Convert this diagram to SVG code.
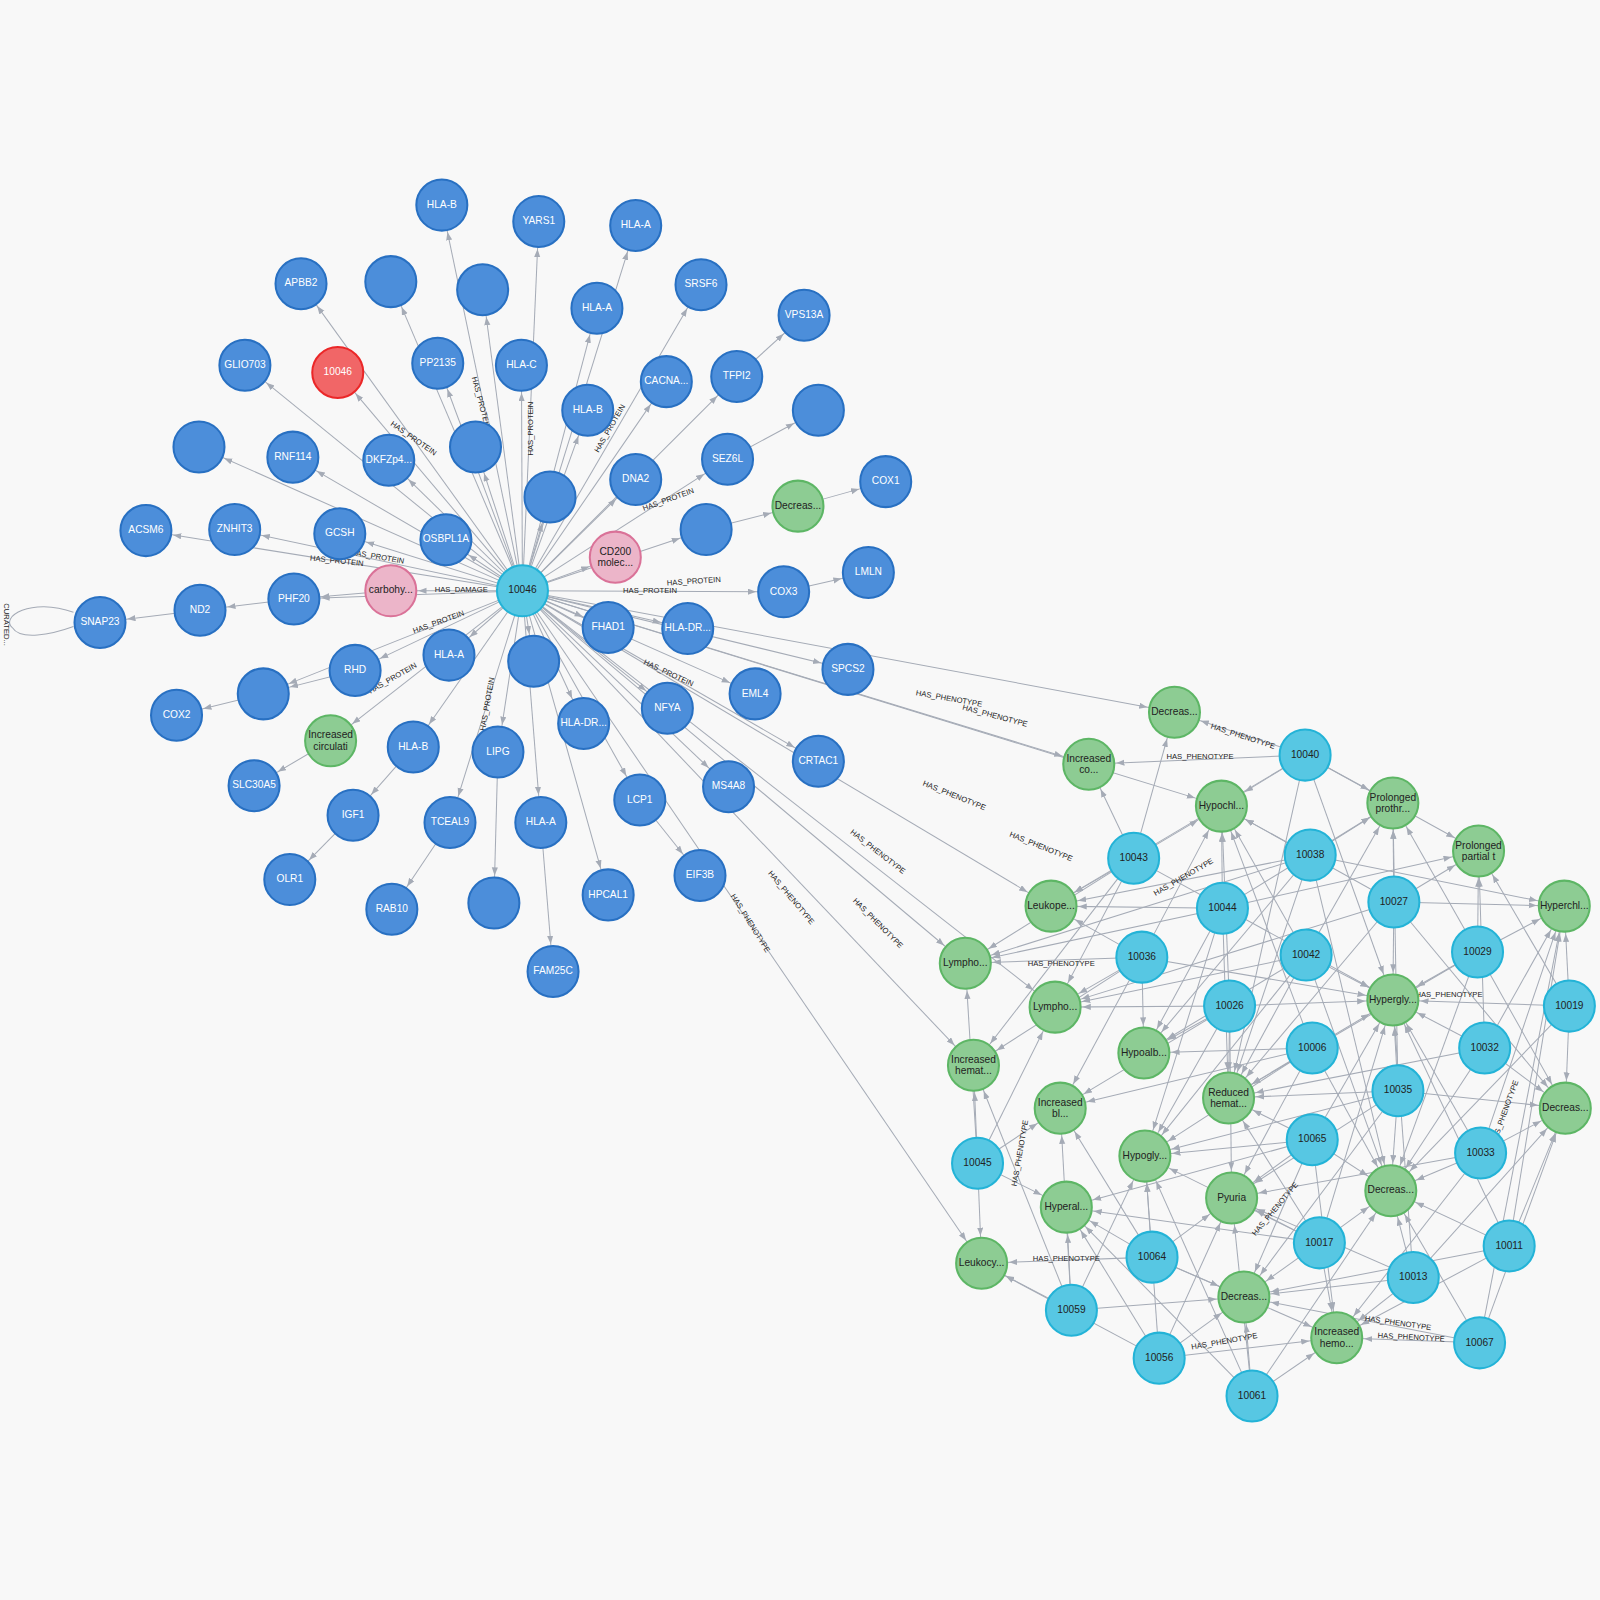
<svg xmlns="http://www.w3.org/2000/svg" width="1600" height="1600" viewBox="0 0 1600 1600">
<style>
.e{stroke:#a5abb6;stroke-width:1;fill:none;marker-end:url(#a)}
.b{fill:#4c8eda;stroke:#2870c2;stroke-width:2}
.c{fill:#57c7e3;stroke:#23b3d7;stroke-width:2}
.g{fill:#8dcc93;stroke:#5db665;stroke-width:2}
.p{fill:#ecb5c9;stroke:#da7298;stroke-width:2}
.r{fill:#f16667;stroke:#eb2728;stroke-width:2}
text{font-family:"Liberation Sans",Arial,sans-serif;text-anchor:middle;dominant-baseline:middle}
.w{fill:#fff;font-size:10px}
.k{fill:#222;font-size:10px}
.l{fill:#222;font-size:7.5px}
</style>
<defs><marker id="a" markerUnits="userSpaceOnUse" markerWidth="10" markerHeight="8" refX="35" refY="3" orient="auto"><path d="M0,0L8,3L0,6z" fill="#a5abb6"/></marker></defs>
<rect width="1600" height="1600" fill="#f8f8f8"/>
<g transform="scale(1.0204)">
<g id="connectors">
<path class="e" d="M72,600 C30,585 0,605 12,615 C20,628 50,622 72,614" style="marker-end:none"/>
<text class="l" x="6" y="612" transform="rotate(90 6 612)">CURATED...</text>
<line class="e" x1="512" y1="579" x2="433" y2="201"/><line class="e" x1="512" y1="579" x2="528" y2="217"/><line class="e" x1="512" y1="579" x2="623" y2="221"/><line class="e" x1="512" y1="579" x2="295" y2="278"/><line class="e" x1="512" y1="579" x2="383" y2="276"/><line class="e" x1="512" y1="579" x2="473" y2="284"/><line class="e" x1="512" y1="579" x2="585" y2="302"/><line class="e" x1="512" y1="579" x2="687" y2="279"/><line class="e" x1="512" y1="579" x2="240" y2="358"/><line class="e" x1="512" y1="579" x2="331" y2="365"/><line class="e" x1="512" y1="579" x2="429" y2="356"/><line class="e" x1="512" y1="579" x2="511" y2="358"/><line class="e" x1="512" y1="579" x2="653" y2="374"/><line class="e" x1="512" y1="579" x2="722" y2="369"/><line class="e" x1="512" y1="579" x2="576" y2="402"/><line class="e" x1="512" y1="579" x2="195" y2="438"/><line class="e" x1="512" y1="579" x2="287" y2="448"/><line class="e" x1="512" y1="579" x2="381" y2="451"/><line class="e" x1="512" y1="579" x2="466" y2="438"/><line class="e" x1="512" y1="579" x2="539" y2="487"/><line class="e" x1="512" y1="579" x2="623" y2="470"/><line class="e" x1="512" y1="579" x2="713" y2="450"/><line class="e" x1="512" y1="579" x2="143" y2="520"/><line class="e" x1="512" y1="579" x2="230" y2="519"/><line class="e" x1="512" y1="579" x2="333" y2="523"/><line class="e" x1="512" y1="579" x2="437" y2="529"/><line class="e" x1="512" y1="579" x2="692" y2="519"/><line class="e" x1="512" y1="579" x2="603" y2="546"/><line class="e" x1="512" y1="579" x2="383" y2="579"/><line class="e" x1="512" y1="579" x2="288" y2="587"/><line class="e" x1="512" y1="579" x2="768" y2="580"/><line class="e" x1="512" y1="579" x2="596" y2="615"/><line class="e" x1="512" y1="579" x2="674" y2="616"/><line class="e" x1="512" y1="579" x2="348" y2="657"/><line class="e" x1="512" y1="579" x2="440" y2="642"/><line class="e" x1="512" y1="579" x2="523" y2="648"/><line class="e" x1="512" y1="579" x2="831" y2="656"/><line class="e" x1="512" y1="579" x2="258" y2="680"/><line class="e" x1="512" y1="579" x2="740" y2="680"/><line class="e" x1="512" y1="579" x2="654" y2="694"/><line class="e" x1="512" y1="579" x2="572" y2="709"/><line class="e" x1="512" y1="579" x2="802" y2="746"/><line class="e" x1="512" y1="579" x2="405" y2="732"/><line class="e" x1="512" y1="579" x2="488" y2="737"/><line class="e" x1="512" y1="579" x2="714" y2="771"/><line class="e" x1="512" y1="579" x2="324" y2="726"/><line class="e" x1="512" y1="579" x2="441" y2="806"/><line class="e" x1="512" y1="579" x2="530" y2="806"/><line class="e" x1="512" y1="579" x2="627" y2="784"/><line class="e" x1="512" y1="579" x2="596" y2="877"/>
<line class="e" x1="722" y1="369" x2="788" y2="309"/><line class="e" x1="713" y1="450" x2="802" y2="402"/><line class="e" x1="692" y1="519" x2="782" y2="496"/><line class="e" x1="782" y1="496" x2="868" y2="472"/><line class="e" x1="768" y1="580" x2="851" y2="561"/><line class="e" x1="288" y1="587" x2="196" y2="598"/><line class="e" x1="196" y1="598" x2="98" y2="610"/><line class="e" x1="258" y1="680" x2="173" y2="701"/><line class="e" x1="348" y1="657" x2="258" y2="680"/><line class="e" x1="324" y1="726" x2="249" y2="770"/><line class="e" x1="405" y1="732" x2="346" y2="799"/><line class="e" x1="346" y1="799" x2="284" y2="862"/><line class="e" x1="441" y1="806" x2="384" y2="891"/><line class="e" x1="488" y1="737" x2="484" y2="885"/><line class="e" x1="530" y1="806" x2="542" y2="952"/><line class="e" x1="627" y1="784" x2="686" y2="858"/><line class="e" x1="383" y1="579" x2="288" y2="587"/>
<line class="e" x1="512" y1="579" x2="1151" y2="698"/><line class="e" x1="512" y1="579" x2="1067" y2="749"/><line class="e" x1="512" y1="579" x2="1030" y2="888"/><line class="e" x1="512" y1="579" x2="946" y2="944"/><line class="e" x1="512" y1="579" x2="954" y2="1044"/><line class="e" x1="512" y1="579" x2="962" y2="1238"/><line class="e" x1="512" y1="579" x2="1197" y2="790"/><line class="e" x1="512" y1="579" x2="1034" y2="987"/>
<!-- cluster -->
<line class="e" x1="1279" y1="740" x2="1151" y2="698"/><line class="e" x1="1279" y1="740" x2="1067" y2="749"/><line class="e" x1="1279" y1="740" x2="1197" y2="790"/><line class="e" x1="1279" y1="740" x2="1365" y2="787"/><line class="e" x1="1279" y1="740" x2="1449" y2="834"/><line class="e" x1="1279" y1="740" x2="1030" y2="888"/><line class="e" x1="1279" y1="740" x2="1365" y2="980"/><line class="e" x1="1279" y1="740" x2="1204" y2="1076"/>
<line class="e" x1="1284" y1="838" x2="1197" y2="790"/><line class="e" x1="1284" y1="838" x2="1365" y2="787"/><line class="e" x1="1284" y1="838" x2="1533" y2="888"/><line class="e" x1="1284" y1="838" x2="1030" y2="888"/><line class="e" x1="1284" y1="838" x2="1121" y2="1032"/><line class="e" x1="1284" y1="838" x2="1204" y2="1076"/><line class="e" x1="1284" y1="838" x2="1363" y2="1167"/><line class="e" x1="1284" y1="838" x2="946" y2="944"/>
<line class="e" x1="1111" y1="841" x2="1151" y2="698"/><line class="e" x1="1111" y1="841" x2="1067" y2="749"/><line class="e" x1="1111" y1="841" x2="1197" y2="790"/><line class="e" x1="1111" y1="841" x2="1030" y2="888"/><line class="e" x1="1111" y1="841" x2="946" y2="944"/><line class="e" x1="1111" y1="841" x2="1034" y2="987"/><line class="e" x1="1111" y1="841" x2="954" y2="1044"/><line class="e" x1="1111" y1="841" x2="1365" y2="980"/>
<line class="e" x1="1198" y1="890" x2="1197" y2="790"/><line class="e" x1="1198" y1="890" x2="1365" y2="787"/><line class="e" x1="1198" y1="890" x2="1030" y2="888"/><line class="e" x1="1198" y1="890" x2="1121" y2="1032"/><line class="e" x1="1198" y1="890" x2="1204" y2="1076"/><line class="e" x1="1198" y1="890" x2="1122" y2="1133"/><line class="e" x1="1198" y1="890" x2="1449" y2="834"/><line class="e" x1="1198" y1="890" x2="946" y2="944"/>
<line class="e" x1="1366" y1="884" x2="1365" y2="787"/><line class="e" x1="1366" y1="884" x2="1449" y2="834"/><line class="e" x1="1366" y1="884" x2="1533" y2="888"/><line class="e" x1="1366" y1="884" x2="1365" y2="980"/><line class="e" x1="1366" y1="884" x2="1197" y2="790"/><line class="e" x1="1366" y1="884" x2="1204" y2="1076"/><line class="e" x1="1366" y1="884" x2="1534" y2="1086"/><line class="e" x1="1366" y1="884" x2="1034" y2="987"/>
<line class="e" x1="1119" y1="938" x2="1030" y2="888"/><line class="e" x1="1119" y1="938" x2="946" y2="944"/><line class="e" x1="1119" y1="938" x2="1034" y2="987"/><line class="e" x1="1119" y1="938" x2="1121" y2="1032"/><line class="e" x1="1119" y1="938" x2="954" y2="1044"/><line class="e" x1="1119" y1="938" x2="1039" y2="1086"/><line class="e" x1="1119" y1="938" x2="1197" y2="790"/><line class="e" x1="1119" y1="938" x2="1365" y2="980"/>
<line class="e" x1="1280" y1="936" x2="1365" y2="980"/><line class="e" x1="1280" y1="936" x2="1204" y2="1076"/><line class="e" x1="1280" y1="936" x2="1121" y2="1032"/><line class="e" x1="1280" y1="936" x2="1197" y2="790"/><line class="e" x1="1280" y1="936" x2="1365" y2="787"/><line class="e" x1="1280" y1="936" x2="1122" y2="1133"/><line class="e" x1="1280" y1="936" x2="1363" y2="1167"/><line class="e" x1="1280" y1="936" x2="1034" y2="987"/>
<line class="e" x1="1448" y1="933" x2="1533" y2="888"/><line class="e" x1="1448" y1="933" x2="1449" y2="834"/><line class="e" x1="1448" y1="933" x2="1365" y2="980"/><line class="e" x1="1448" y1="933" x2="1534" y2="1086"/><line class="e" x1="1448" y1="933" x2="1365" y2="787"/><line class="e" x1="1448" y1="933" x2="1363" y2="1167"/><line class="e" x1="1448" y1="933" x2="1204" y2="1076"/>
<line class="e" x1="1205" y1="986" x2="1121" y2="1032"/><line class="e" x1="1205" y1="986" x2="1204" y2="1076"/><line class="e" x1="1205" y1="986" x2="1365" y2="980"/><line class="e" x1="1205" y1="986" x2="1034" y2="987"/><line class="e" x1="1205" y1="986" x2="1122" y2="1133"/><line class="e" x1="1205" y1="986" x2="1207" y2="1174"/><line class="e" x1="1205" y1="986" x2="1197" y2="790"/><line class="e" x1="1205" y1="986" x2="1039" y2="1086"/>
<line class="e" x1="1538" y1="986" x2="1533" y2="888"/><line class="e" x1="1538" y1="986" x2="1534" y2="1086"/><line class="e" x1="1538" y1="986" x2="1365" y2="980"/><line class="e" x1="1538" y1="986" x2="1449" y2="834"/><line class="e" x1="1538" y1="986" x2="1363" y2="1167"/>
<line class="e" x1="1286" y1="1027" x2="1365" y2="980"/><line class="e" x1="1286" y1="1027" x2="1204" y2="1076"/><line class="e" x1="1286" y1="1027" x2="1121" y2="1032"/><line class="e" x1="1286" y1="1027" x2="1207" y2="1174"/><line class="e" x1="1286" y1="1027" x2="1363" y2="1167"/><line class="e" x1="1286" y1="1027" x2="1122" y2="1133"/><line class="e" x1="1286" y1="1027" x2="1197" y2="790"/><line class="e" x1="1286" y1="1027" x2="1039" y2="1086"/>
<line class="e" x1="1455" y1="1027" x2="1534" y2="1086"/><line class="e" x1="1455" y1="1027" x2="1365" y2="980"/><line class="e" x1="1455" y1="1027" x2="1533" y2="888"/><line class="e" x1="1455" y1="1027" x2="1363" y2="1167"/><line class="e" x1="1455" y1="1027" x2="1204" y2="1076"/><line class="e" x1="1455" y1="1027" x2="1449" y2="834"/>
<line class="e" x1="1370" y1="1069" x2="1365" y2="980"/><line class="e" x1="1370" y1="1069" x2="1363" y2="1167"/><line class="e" x1="1370" y1="1069" x2="1204" y2="1076"/><line class="e" x1="1370" y1="1069" x2="1534" y2="1086"/><line class="e" x1="1370" y1="1069" x2="1207" y2="1174"/><line class="e" x1="1370" y1="1069" x2="1219" y2="1271"/><line class="e" x1="1370" y1="1069" x2="1122" y2="1133"/><line class="e" x1="1370" y1="1069" x2="1365" y2="787"/>
<line class="e" x1="1286" y1="1117" x2="1207" y2="1174"/><line class="e" x1="1286" y1="1117" x2="1363" y2="1167"/><line class="e" x1="1286" y1="1117" x2="1204" y2="1076"/><line class="e" x1="1286" y1="1117" x2="1122" y2="1133"/><line class="e" x1="1286" y1="1117" x2="1219" y2="1271"/><line class="e" x1="1286" y1="1117" x2="1310" y2="1311"/><line class="e" x1="1286" y1="1117" x2="1045" y2="1183"/><line class="e" x1="1286" y1="1117" x2="1365" y2="980"/>
<line class="e" x1="1451" y1="1130" x2="1363" y2="1167"/><line class="e" x1="1451" y1="1130" x2="1534" y2="1086"/><line class="e" x1="1451" y1="1130" x2="1365" y2="980"/><line class="e" x1="1451" y1="1130" x2="1310" y2="1311"/><line class="e" x1="1451" y1="1130" x2="1533" y2="888"/><line class="e" x1="1451" y1="1130" x2="1207" y2="1174"/>
<line class="e" x1="958" y1="1140" x2="954" y2="1044"/><line class="e" x1="958" y1="1140" x2="962" y2="1238"/><line class="e" x1="958" y1="1140" x2="1039" y2="1086"/><line class="e" x1="958" y1="1140" x2="1045" y2="1183"/><line class="e" x1="958" y1="1140" x2="1034" y2="987"/><line class="e" x1="958" y1="1140" x2="946" y2="944"/>
<line class="e" x1="1293" y1="1218" x2="1219" y2="1271"/><line class="e" x1="1293" y1="1218" x2="1310" y2="1311"/><line class="e" x1="1293" y1="1218" x2="1363" y2="1167"/><line class="e" x1="1293" y1="1218" x2="1207" y2="1174"/><line class="e" x1="1293" y1="1218" x2="1122" y2="1133"/><line class="e" x1="1293" y1="1218" x2="1204" y2="1076"/><line class="e" x1="1293" y1="1218" x2="1045" y2="1183"/><line class="e" x1="1293" y1="1218" x2="1365" y2="980"/>
<line class="e" x1="1479" y1="1221" x2="1534" y2="1086"/><line class="e" x1="1479" y1="1221" x2="1363" y2="1167"/><line class="e" x1="1479" y1="1221" x2="1310" y2="1311"/><line class="e" x1="1479" y1="1221" x2="1365" y2="980"/><line class="e" x1="1479" y1="1221" x2="1533" y2="888"/><line class="e" x1="1479" y1="1221" x2="1219" y2="1271"/>
<line class="e" x1="1129" y1="1232" x2="1045" y2="1183"/><line class="e" x1="1129" y1="1232" x2="962" y2="1238"/><line class="e" x1="1129" y1="1232" x2="1122" y2="1133"/><line class="e" x1="1129" y1="1232" x2="1219" y2="1271"/><line class="e" x1="1129" y1="1232" x2="1207" y2="1174"/><line class="e" x1="1129" y1="1232" x2="1039" y2="1086"/><line class="e" x1="1129" y1="1232" x2="1310" y2="1311"/>
<line class="e" x1="1385" y1="1252" x2="1310" y2="1311"/><line class="e" x1="1385" y1="1252" x2="1363" y2="1167"/><line class="e" x1="1385" y1="1252" x2="1219" y2="1271"/><line class="e" x1="1385" y1="1252" x2="1534" y2="1086"/><line class="e" x1="1385" y1="1252" x2="1207" y2="1174"/><line class="e" x1="1385" y1="1252" x2="1365" y2="980"/>
<line class="e" x1="1050" y1="1284" x2="962" y2="1238"/><line class="e" x1="1050" y1="1284" x2="1045" y2="1183"/><line class="e" x1="1050" y1="1284" x2="1219" y2="1271"/><line class="e" x1="1050" y1="1284" x2="1039" y2="1086"/><line class="e" x1="1050" y1="1284" x2="1122" y2="1133"/><line class="e" x1="1050" y1="1284" x2="954" y2="1044"/>
<line class="e" x1="1136" y1="1331" x2="1219" y2="1271"/><line class="e" x1="1136" y1="1331" x2="1310" y2="1311"/><line class="e" x1="1136" y1="1331" x2="1045" y2="1183"/><line class="e" x1="1136" y1="1331" x2="962" y2="1238"/><line class="e" x1="1136" y1="1331" x2="1207" y2="1174"/><line class="e" x1="1136" y1="1331" x2="1122" y2="1133"/>
<line class="e" x1="1450" y1="1316" x2="1310" y2="1311"/><line class="e" x1="1450" y1="1316" x2="1363" y2="1167"/><line class="e" x1="1450" y1="1316" x2="1534" y2="1086"/><line class="e" x1="1450" y1="1316" x2="1219" y2="1271"/><line class="e" x1="1450" y1="1316" x2="1533" y2="888"/>
<line class="e" x1="1227" y1="1368" x2="1219" y2="1271"/><line class="e" x1="1227" y1="1368" x2="1310" y2="1311"/><line class="e" x1="1227" y1="1368" x2="1207" y2="1174"/><line class="e" x1="1227" y1="1368" x2="1045" y2="1183"/><line class="e" x1="1227" y1="1368" x2="1122" y2="1133"/><line class="e" x1="1227" y1="1368" x2="1363" y2="1167"/>
<g class="l">
<text class="l" x="680" y="570" transform="rotate(-4 680 570)">HAS_PROTEIN</text>
<text class="l" x="637" y="579">HAS_PROTEIN</text>
<text class="l" x="452" y="578">HAS_DAMAGE</text>
<text class="l" x="330" y="550" transform="rotate(6 330 550)">HAS_PROTEIN</text>
<text class="l" x="370" y="546" transform="rotate(10 370 546)">HAS_PROTEIN</text>
<text class="l" x="405" y="430" transform="rotate(35 405 430)">HAS_PROTEIN</text>
<text class="l" x="471" y="395" transform="rotate(75 471 395)">HAS_PROTEIN</text>
<text class="l" x="520" y="420" transform="rotate(-90 520 420)">HAS_PROTEIN</text>
<text class="l" x="598" y="420" transform="rotate(-60 598 420)">HAS_PROTEIN</text>
<text class="l" x="655" y="490" transform="rotate(-20 655 490)">HAS_PROTEIN</text>
<text class="l" x="430" y="610" transform="rotate(-20 430 610)">HAS_PROTEIN</text>
<text class="l" x="385" y="665" transform="rotate(-30 385 665)">HAS_PROTEIN</text>
<text class="l" x="478" y="690" transform="rotate(-80 478 690)">HAS_PROTEIN</text>
<text class="l" x="655" y="660" transform="rotate(25 655 660)">HAS_PROTEIN</text>
<text class="l" x="930" y="685" transform="rotate(10 930 685)">HAS_PHENOTYPE</text>
<text class="l" x="975" y="702" transform="rotate(15 975 702)">HAS_PHENOTYPE</text>
<text class="l" x="935" y="780" transform="rotate(22 935 780)">HAS_PHENOTYPE</text>
<text class="l" x="1020" y="830" transform="rotate(22 1020 830)">HAS_PHENOTYPE</text>
<text class="l" x="860" y="835" transform="rotate(38 860 835)">HAS_PHENOTYPE</text>
<text class="l" x="860" y="905" transform="rotate(45 860 905)">HAS_PHENOTYPE</text>
<text class="l" x="735" y="905" transform="rotate(58 735 905)">HAS_PHENOTYPE</text>
<text class="l" x="775" y="880" transform="rotate(50 775 880)">HAS_PHENOTYPE</text>
<text class="l" x="1218" y="722" transform="rotate(18 1218 722)">HAS_PHENOTYPE</text>
<text class="l" x="1176" y="742">HAS_PHENOTYPE</text>
<text class="l" x="1383" y="1311" transform="rotate(3 1383 1311)">HAS_PHENOTYPE</text>
<text class="l" x="1045" y="1234">HAS_PHENOTYPE</text>
<text class="l" x="1370" y="1297" transform="rotate(8 1370 1297)">HAS_PHENOTYPE</text>
<text class="l" x="1200" y="1315" transform="rotate(-10 1200 1315)">HAS_PHENOTYPE</text>
<text class="l" x="1040" y="945">HAS_PHENOTYPE</text>
<text class="l" x="1475" y="1090" transform="rotate(-70 1475 1090)">HAS_PHENOTYPE</text>
<text class="l" x="1250" y="1185" transform="rotate(-50 1250 1185)">HAS_PHENOTYPE</text>
<text class="l" x="1160" y="860" transform="rotate(-30 1160 860)">HAS_PHENOTYPE</text>
<text class="l" x="1420" y="975">HAS_PHENOTYPE</text>
<text class="l" x="1000" y="1130" transform="rotate(-80 1000 1130)">HAS_PHENOTYPE</text>
</g>
</g>
<g id="nodes">
<g id="n1"><circle class="b" cx="433" cy="201" r="25"/><text class="w" x="433" y="201">HLA-B</text></g>
<g id="n2"><circle class="b" cx="528" cy="217" r="25"/><text class="w" x="528" y="217">YARS1</text></g>
<g id="n3"><circle class="b" cx="623" cy="221" r="25"/><text class="w" x="623" y="221">HLA-A</text></g>
<g id="n4"><circle class="b" cx="295" cy="278" r="25"/><text class="w" x="295" y="278">APBB2</text></g>
<g id="n5"><circle class="b" cx="383" cy="276" r="25"/></g>
<g id="n6"><circle class="b" cx="473" cy="284" r="25"/></g>
<g id="n7"><circle class="b" cx="585" cy="302" r="25"/><text class="w" x="585" y="302">HLA-A</text></g>
<g id="n8"><circle class="b" cx="687" cy="279" r="25"/><text class="w" x="687" y="279">SRSF6</text></g>
<g id="n9"><circle class="b" cx="788" cy="309" r="25"/><text class="w" x="788" y="309">VPS13A</text></g>
<g id="n10"><circle class="b" cx="240" cy="358" r="25"/><text class="w" x="240" y="358">GLIO703</text></g>
<g id="n11"><circle class="r" cx="331" cy="365" r="25"/><text class="w" x="331" y="365">10046</text></g>
<g id="n12"><circle class="b" cx="429" cy="356" r="25"/><text class="w" x="429" y="356">PP2135</text></g>
<g id="n13"><circle class="b" cx="511" cy="358" r="25"/><text class="w" x="511" y="358">HLA-C</text></g>
<g id="n14"><circle class="b" cx="653" cy="374" r="25"/><text class="w" x="653" y="374">CACNA...</text></g>
<g id="n15"><circle class="b" cx="722" cy="369" r="25"/><text class="w" x="722" y="369">TFPI2</text></g>
<g id="n16"><circle class="b" cx="576" cy="402" r="25"/><text class="w" x="576" y="402">HLA-B</text></g>
<g id="n17"><circle class="b" cx="802" cy="402" r="25"/></g>
<g id="n18"><circle class="b" cx="195" cy="438" r="25"/></g>
<g id="n19"><circle class="b" cx="287" cy="448" r="25"/><text class="w" x="287" y="448">RNF114</text></g>
<g id="n20"><circle class="b" cx="381" cy="451" r="25"/><text class="w" x="381" y="451">DKFZp4...</text></g>
<g id="n21"><circle class="b" cx="466" cy="438" r="25"/></g>
<g id="n22"><circle class="b" cx="539" cy="487" r="25"/></g>
<g id="n23"><circle class="b" cx="623" cy="470" r="25"/><text class="w" x="623" y="470">DNA2</text></g>
<g id="n24"><circle class="b" cx="713" cy="450" r="25"/><text class="w" x="713" y="450">SEZ6L</text></g>
<g id="n25"><circle class="b" cx="868" cy="472" r="25"/><text class="w" x="868" y="472">COX1</text></g>
<g id="n26"><circle class="b" cx="143" cy="520" r="25"/><text class="w" x="143" y="520">ACSM6</text></g>
<g id="n27"><circle class="b" cx="230" cy="519" r="25"/><text class="w" x="230" y="519">ZNHIT3</text></g>
<g id="n28"><circle class="b" cx="333" cy="523" r="25"/><text class="w" x="333" y="523">GCSH</text></g>
<g id="n29"><circle class="b" cx="437" cy="529" r="25"/><text class="w" x="437" y="529">OSBPL1A</text></g>
<g id="n30"><circle class="b" cx="692" cy="519" r="25"/></g>
<g id="n31"><circle class="g" cx="782" cy="496" r="25"/><text class="k" x="782" y="496">Decreas...</text></g>
<g id="n32"><circle class="p" cx="603" cy="546" r="25"/><text class="k" x="603" y="541">CD200</text><text class="k" x="603" y="552">molec...</text></g>
<g id="n33"><circle class="b" cx="851" cy="561" r="25"/><text class="w" x="851" y="561">LMLN</text></g>
<g id="n34"><circle class="b" cx="98" cy="610" r="25"/><text class="w" x="98" y="610">SNAP23</text></g>
<g id="n35"><circle class="b" cx="196" cy="598" r="25"/><text class="w" x="196" y="598">ND2</text></g>
<g id="n36"><circle class="b" cx="288" cy="587" r="25"/><text class="w" x="288" y="587">PHF20</text></g>
<g id="n37"><circle class="p" cx="383" cy="579" r="25"/><text class="k" x="383" y="579">carbohy...</text></g>
<g id="n38"><circle class="c" cx="512" cy="579" r="25"/><text class="k" x="512" y="579">10046</text></g>
<g id="n39"><circle class="b" cx="768" cy="580" r="25"/><text class="w" x="768" y="580">COX3</text></g>
<g id="n40"><circle class="b" cx="596" cy="615" r="25"/><text class="w" x="596" y="615">FHAD1</text></g>
<g id="n41"><circle class="b" cx="674" cy="616" r="25"/><text class="w" x="674" y="616">HLA-DR...</text></g>
<g id="n42"><circle class="b" cx="348" cy="657" r="25"/><text class="w" x="348" y="657">RHD</text></g>
<g id="n43"><circle class="b" cx="440" cy="642" r="25"/><text class="w" x="440" y="642">HLA-A</text></g>
<g id="n44"><circle class="b" cx="523" cy="648" r="25"/></g>
<g id="n45"><circle class="b" cx="831" cy="656" r="25"/><text class="w" x="831" y="656">SPCS2</text></g>
<g id="n46"><circle class="b" cx="173" cy="701" r="25"/><text class="w" x="173" y="701">COX2</text></g>
<g id="n47"><circle class="b" cx="258" cy="680" r="25"/></g>
<g id="n48"><circle class="b" cx="740" cy="680" r="25"/><text class="w" x="740" y="680">EML4</text></g>
<g id="n49"><circle class="b" cx="654" cy="694" r="25"/><text class="w" x="654" y="694">NFYA</text></g>
<g id="n50"><circle class="b" cx="572" cy="709" r="25"/><text class="w" x="572" y="709">HLA-DR...</text></g>
<g id="n51"><circle class="b" cx="802" cy="746" r="25"/><text class="w" x="802" y="746">CRTAC1</text></g>
<g id="n52"><circle class="g" cx="324" cy="726" r="25"/><text class="k" x="324" y="721">Increased</text><text class="k" x="324" y="732">circulati</text></g>
<g id="n53"><circle class="b" cx="405" cy="732" r="25"/><text class="w" x="405" y="732">HLA-B</text></g>
<g id="n54"><circle class="b" cx="488" cy="737" r="25"/><text class="w" x="488" y="737">LIPG</text></g>
<g id="n55"><circle class="b" cx="714" cy="771" r="25"/><text class="w" x="714" y="771">MS4A8</text></g>
<g id="n56"><circle class="b" cx="249" cy="770" r="25"/><text class="w" x="249" y="770">SLC30A5</text></g>
<g id="n57"><circle class="b" cx="346" cy="799" r="25"/><text class="w" x="346" y="799">IGF1</text></g>
<g id="n58"><circle class="b" cx="441" cy="806" r="25"/><text class="w" x="441" y="806">TCEAL9</text></g>
<g id="n59"><circle class="b" cx="530" cy="806" r="25"/><text class="w" x="530" y="806">HLA-A</text></g>
<g id="n60"><circle class="b" cx="627" cy="784" r="25"/><text class="w" x="627" y="784">LCP1</text></g>
<g id="n61"><circle class="b" cx="686" cy="858" r="25"/><text class="w" x="686" y="858">EIF3B</text></g>
<g id="n62"><circle class="b" cx="284" cy="862" r="25"/><text class="w" x="284" y="862">OLR1</text></g>
<g id="n63"><circle class="b" cx="384" cy="891" r="25"/><text class="w" x="384" y="891">RAB10</text></g>
<g id="n64"><circle class="b" cx="484" cy="885" r="25"/></g>
<g id="n65"><circle class="b" cx="596" cy="877" r="25"/><text class="w" x="596" y="877">HPCAL1</text></g>
<g id="n66"><circle class="b" cx="542" cy="952" r="25"/><text class="w" x="542" y="952">FAM25C</text></g>
<g id="p1"><circle class="g" cx="1151" cy="698" r="25"/><text class="k" x="1151" y="698">Decreas...</text></g>
<g id="p2"><circle class="g" cx="1067" cy="749" r="25"/><text class="k" x="1067" y="744">Increased</text><text class="k" x="1067" y="755">co...</text></g>
<g id="p3"><circle class="g" cx="1197" cy="790" r="25"/><text class="k" x="1197" y="790">Hypochl...</text></g>
<g id="p4"><circle class="g" cx="1365" cy="787" r="25"/><text class="k" x="1365" y="782">Prolonged</text><text class="k" x="1365" y="793">prothr...</text></g>
<g id="p5"><circle class="g" cx="1449" cy="834" r="25"/><text class="k" x="1449" y="829">Prolonged</text><text class="k" x="1449" y="840">partial t</text></g>
<g id="p6"><circle class="g" cx="1533" cy="888" r="25"/><text class="k" x="1533" y="888">Hyperchl...</text></g>
<g id="p7"><circle class="g" cx="1030" cy="888" r="25"/><text class="k" x="1030" y="888">Leukope...</text></g>
<g id="p8"><circle class="g" cx="946" cy="944" r="25"/><text class="k" x="946" y="944">Lympho...</text></g>
<g id="p9"><circle class="g" cx="1034" cy="987" r="25"/><text class="k" x="1034" y="987">Lympho...</text></g>
<g id="p10"><circle class="g" cx="1365" cy="980" r="25"/><text class="k" x="1365" y="980">Hypergly...</text></g>
<g id="p11"><circle class="g" cx="1121" cy="1032" r="25"/><text class="k" x="1121" y="1032">Hypoalb...</text></g>
<g id="p12"><circle class="g" cx="954" cy="1044" r="25"/><text class="k" x="954" y="1039">Increased</text><text class="k" x="954" y="1050">hemat...</text></g>
<g id="p13"><circle class="g" cx="1039" cy="1086" r="25"/><text class="k" x="1039" y="1081">Increased</text><text class="k" x="1039" y="1092">bl...</text></g>
<g id="p14"><circle class="g" cx="1204" cy="1076" r="25"/><text class="k" x="1204" y="1071">Reduced</text><text class="k" x="1204" y="1082">hemat...</text></g>
<g id="p15"><circle class="g" cx="1534" cy="1086" r="25"/><text class="k" x="1534" y="1086">Decreas...</text></g>
<g id="p16"><circle class="g" cx="1122" cy="1133" r="25"/><text class="k" x="1122" y="1133">Hypogly...</text></g>
<g id="p17"><circle class="g" cx="1207" cy="1174" r="25"/><text class="k" x="1207" y="1174">Pyuria</text></g>
<g id="p18"><circle class="g" cx="1363" cy="1167" r="25"/><text class="k" x="1363" y="1167">Decreas...</text></g>
<g id="p19"><circle class="g" cx="1045" cy="1183" r="25"/><text class="k" x="1045" y="1183">Hyperal...</text></g>
<g id="p20"><circle class="g" cx="962" cy="1238" r="25"/><text class="k" x="962" y="1238">Leukocy...</text></g>
<g id="p21"><circle class="g" cx="1219" cy="1271" r="25"/><text class="k" x="1219" y="1271">Decreas...</text></g>
<g id="p22"><circle class="g" cx="1310" cy="1311" r="25"/><text class="k" x="1310" y="1306">Increased</text><text class="k" x="1310" y="1317">hemo...</text></g>
<g id="c1"><circle class="c" cx="1279" cy="740" r="25"/><text class="k" x="1279" y="740">10040</text></g>
<g id="c2"><circle class="c" cx="1284" cy="838" r="25"/><text class="k" x="1284" y="838">10038</text></g>
<g id="c3"><circle class="c" cx="1111" cy="841" r="25"/><text class="k" x="1111" y="841">10043</text></g>
<g id="c4"><circle class="c" cx="1198" cy="890" r="25"/><text class="k" x="1198" y="890">10044</text></g>
<g id="c5"><circle class="c" cx="1366" cy="884" r="25"/><text class="k" x="1366" y="884">10027</text></g>
<g id="c6"><circle class="c" cx="1119" cy="938" r="25"/><text class="k" x="1119" y="938">10036</text></g>
<g id="c7"><circle class="c" cx="1280" cy="936" r="25"/><text class="k" x="1280" y="936">10042</text></g>
<g id="c8"><circle class="c" cx="1448" cy="933" r="25"/><text class="k" x="1448" y="933">10029</text></g>
<g id="c9"><circle class="c" cx="1205" cy="986" r="25"/><text class="k" x="1205" y="986">10026</text></g>
<g id="c10"><circle class="c" cx="1538" cy="986" r="25"/><text class="k" x="1538" y="986">10019</text></g>
<g id="c11"><circle class="c" cx="1286" cy="1027" r="25"/><text class="k" x="1286" y="1027">10006</text></g>
<g id="c12"><circle class="c" cx="1455" cy="1027" r="25"/><text class="k" x="1455" y="1027">10032</text></g>
<g id="c13"><circle class="c" cx="1370" cy="1069" r="25"/><text class="k" x="1370" y="1069">10035</text></g>
<g id="c14"><circle class="c" cx="1286" cy="1117" r="25"/><text class="k" x="1286" y="1117">10065</text></g>
<g id="c15"><circle class="c" cx="1451" cy="1130" r="25"/><text class="k" x="1451" y="1130">10033</text></g>
<g id="c16"><circle class="c" cx="958" cy="1140" r="25"/><text class="k" x="958" y="1140">10045</text></g>
<g id="c17"><circle class="c" cx="1293" cy="1218" r="25"/><text class="k" x="1293" y="1218">10017</text></g>
<g id="c18"><circle class="c" cx="1479" cy="1221" r="25"/><text class="k" x="1479" y="1221">10011</text></g>
<g id="c19"><circle class="c" cx="1129" cy="1232" r="25"/><text class="k" x="1129" y="1232">10064</text></g>
<g id="c20"><circle class="c" cx="1385" cy="1252" r="25"/><text class="k" x="1385" y="1252">10013</text></g>
<g id="c21"><circle class="c" cx="1050" cy="1284" r="25"/><text class="k" x="1050" y="1284">10059</text></g>
<g id="c22"><circle class="c" cx="1136" cy="1331" r="25"/><text class="k" x="1136" y="1331">10056</text></g>
<g id="c23"><circle class="c" cx="1450" cy="1316" r="25"/><text class="k" x="1450" y="1316">10067</text></g>
<g id="c24"><circle class="c" cx="1227" cy="1368" r="25"/><text class="k" x="1227" y="1368">10061</text></g>
</g>
</g>
</svg>
